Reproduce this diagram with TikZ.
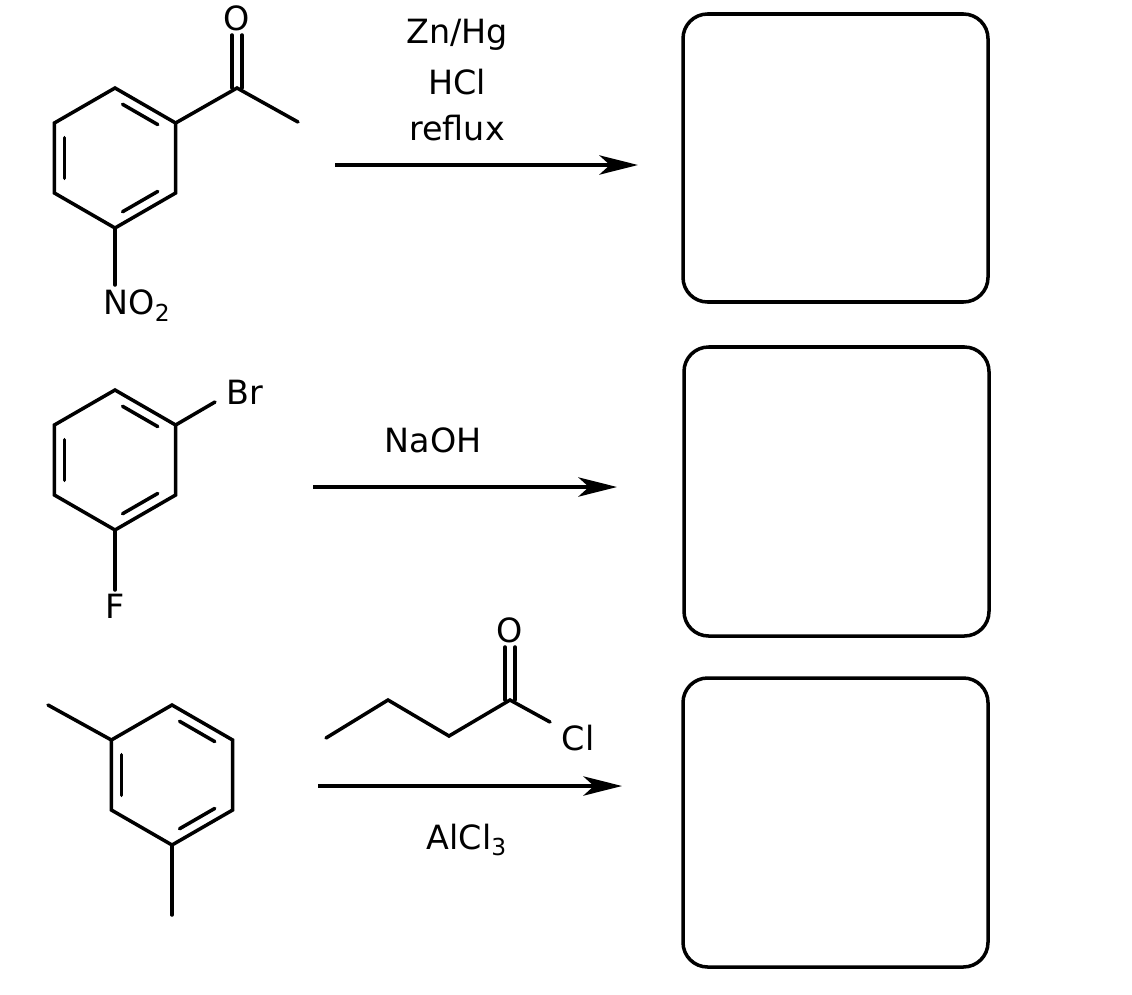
\documentclass[tikz,border=0pt]{standalone}
\usepackage{fontspec}
\setmainfont{DejaVu Sans}
\usetikzlibrary{calc,arrows.meta}
\tikzset{
  bond/.style={line width=2pt, line cap=round},
  rxn/.style={line width=2pt, -{Stealth[length=22pt,width=11pt,inset=6pt]}},
  box/.style={line width=2pt, rounded corners=14pt},
  lbl/.style={font=\fontsize{19}{22}\selectfont, inner sep=0pt}
}
% hexagon with corners name-1 (top) ... name-6, clockwise
\newcommand{\hexring}[3]{%
  \coordinate (#1-c) at (#2,#3);
  \foreach \k in {1,...,6}{\coordinate (#1-\k) at ($(#1-c)+({70*cos(90-60*(\k-1))},{-70*sin(90-60*(\k-1))})$);}
  \draw[bond] (#1-1) -- (#1-2) -- (#1-3) -- (#1-4) -- (#1-5) -- (#1-6) -- cycle;}
\newcommand{\inner}[3]{%
  \draw[bond] ($($(#1-#2)!0.15!(#1-#3)$)!0.17!(#1-c)$) -- ($($(#1-#3)!0.15!(#1-#2)$)!0.17!(#1-c)$);}
\begin{document}
\begin{tikzpicture}[x=0.02cm,y=-0.02cm]
  \useasboundingbox (0,0) rectangle (1132,994);

  % first reaction
  \hexring{ra}{115}{158}
  \inner{ra}{1}{2} \inner{ra}{3}{4} \inner{ra}{5}{6}
  \coordinate (co) at (237,88);
  \coordinate (me) at (298,122);
  \node[lbl] (oa) at (237,18) {O};
  \draw[bond] (ra-2) -- (co) -- (me);
  \draw[bond] ($(co)+(-5,0)$) -- ($(oa.south)+(-5,4)$);
  \draw[bond] ($(co)+(5,0)$) -- ($(oa.south)+(5,4)$);
  \node[lbl] (no) at (137,306) {NO\textsubscript{2}};
  \draw[bond] (ra-4) -- (115,285);
  \coordinate (a1) at (335,165);
  \coordinate (b1) at (638,165);
  \draw[rxn] (a1) -- (b1);
  \node[lbl] (zn) at (457,35) {Zn/Hg};
  \node[lbl] (hcl) at (457,82) {HCl};
  \node[lbl] (rf) at (457,128) {reflux};
  \draw[box] (683,14) rectangle (988,302);

  % second reaction
  \hexring{rb}{115}{460}
  \inner{rb}{1}{2} \inner{rb}{3}{4} \inner{rb}{5}{6}
  \node[lbl] (br) at (245,392) {Br};
  \draw[bond] (rb-2) -- (215,402);
  \node[lbl] (f) at (115,606) {F};
  \draw[bond] (rb-4) -- (115,590);
  \coordinate (a2) at (313,487);
  \coordinate (b2) at (617,487);
  \draw[rxn] (a2) -- (b2);
  \node[lbl] (na) at (433,440) {NaOH};
  \draw[box] (684,347) rectangle (989,636);

  % third reaction
  \hexring{rc}{172}{775}
  \inner{rc}{1}{2} \inner{rc}{3}{4} \inner{rc}{5}{6}
  \draw[bond] (rc-6) -- (48,705);
  \draw[bond] (rc-4) -- (172,915);
  \node[lbl] (cl) at (578,738) {Cl};
  \node[lbl] (ob) at (510,630) {O};
  \coordinate (p1) at (326,738);
  \coordinate (p2) at (388,700);
  \coordinate (p3) at (449,736);
  \coordinate (p4) at (510,700);
  \draw[bond] (p1) -- (p2) -- (p3) -- (p4) -- (550,722);
  \draw[bond] ($(p4)+(-5,0)$) -- ($(ob.south)+(-5,4)$);
  \draw[bond] ($(p4)+(5,0)$) -- ($(ob.south)+(5,4)$);
  \coordinate (a3) at (318,786);
  \coordinate (b3) at (622,786);
  \draw[rxn] (a3) -- (b3);
  \node[lbl] (al) at (467,840) {AlCl\textsubscript{3}};
  \draw[box] (683,678) rectangle (988,967);
\end{tikzpicture}
\end{document}
